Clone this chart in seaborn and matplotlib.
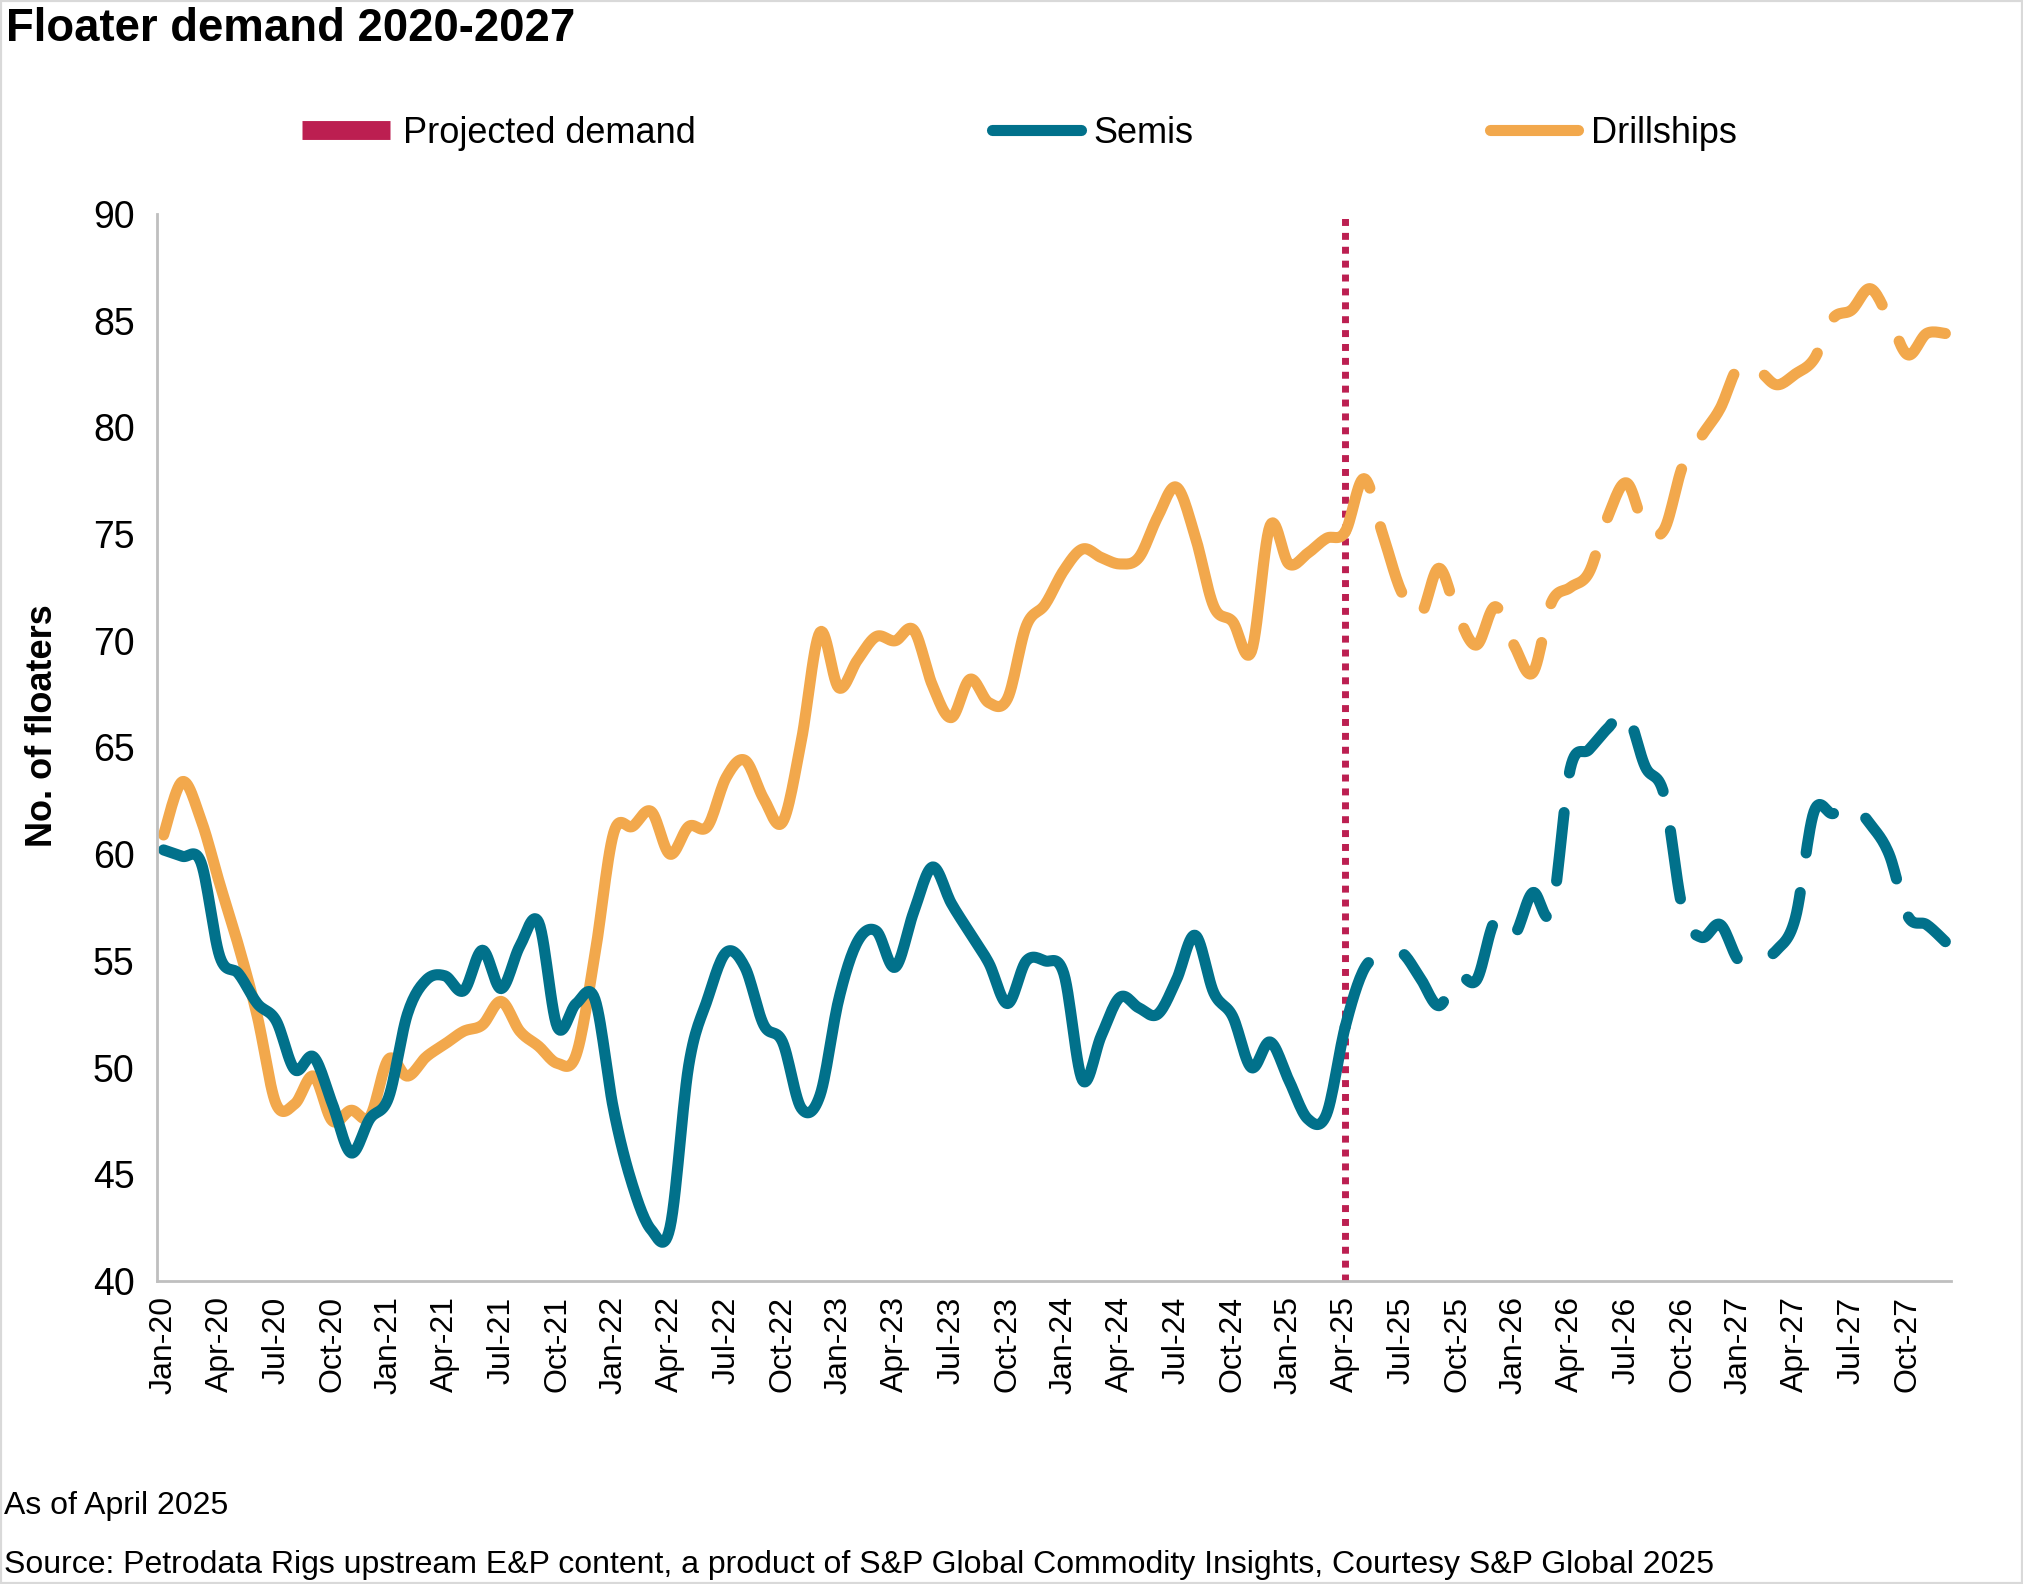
import numpy as np
import pandas as pd
import seaborn as sns
import matplotlib.pyplot as plt
from matplotlib.lines import Line2D
from matplotlib.patches import Rectangle

# monthly categories Jan-20 .. Dec-27
months = pd.date_range('2020-01-01', periods=96, freq='MS')
month_labels = [d.strftime('%b-%y') for d in months]

semis = [
    60.2, 59.9, 59.6, 55.2, 54.4, 53.0, 52.2, 49.9, 50.5, 48.3, 46.0, 47.6,
    48.6, 52.5, 54.1, 54.3, 53.6, 55.5, 53.7, 55.7, 56.8, 51.9, 53.0, 53.2,
    48.0, 44.5, 42.4, 42.5, 50.1, 53.2, 55.4, 54.7, 52.0, 51.2, 48.1, 48.7,
    53.2, 55.9, 56.4, 54.7, 57.3, 59.4, 57.7, 56.3, 54.9, 53.0, 55.0, 55.0,
    54.4, 49.4, 51.5, 53.3, 52.8, 52.5, 54.1, 56.2, 53.5, 52.4, 50.0, 51.2,
    49.4, 47.6, 47.8, 51.9, 54.6, 55.3, 55.4, 54.2, 52.9, 54.3, 54.1, 56.9,
    56.2, 58.2, 57.3, 64.0, 64.9, 65.9, 66.6, 64.1, 62.8, 57.4, 56.1, 56.7,
    55.0, 55.0, 55.5, 57.0, 62.0, 61.9, 62.3, 61.4, 60.0, 57.1, 56.7, 55.9,
]

drillships = [
    60.9, 63.4, 61.6, 58.6, 55.7, 52.4, 48.3, 48.3, 49.6, 47.5, 48.0, 47.7,
    50.4, 49.6, 50.5, 51.1, 51.7, 52.0, 53.1, 51.7, 51.0, 50.2, 50.6, 55.3,
    61.0, 61.3, 62.0, 60.0, 61.3, 61.3, 63.6, 64.4, 62.6, 61.5, 65.3, 70.4,
    67.8, 69.1, 70.2, 70.0, 70.5, 67.9, 66.4, 68.2, 67.1, 67.3, 70.7, 71.7,
    73.3, 74.3, 73.9, 73.6, 73.9, 75.8, 77.2, 74.9, 71.6, 70.9, 69.5, 75.4,
    73.6, 74.1, 74.8, 75.1, 77.6, 75.0, 72.3, 71.2, 73.4, 71.2, 69.8, 71.6,
    69.8, 68.5, 71.8, 72.5, 73.2, 75.8, 77.4, 75.3, 75.2, 78.2, 79.6, 80.9,
    82.9, 82.7, 82.0, 82.5, 83.2, 85.1, 85.5, 86.5, 85.1, 83.4, 84.4, 84.4,
]

projection_start = 'Apr-25'

TEAL = '#01718B'
ORANGE = '#F2A84C'
CRIMSON = '#BC1F51'
GREY = '#BFBFBF'


def smooth_curve(values, steps=14):
    # Excel-like smoothed line (cubic bezier through every point)
    y = np.asarray(values, dtype=float)
    x = np.arange(len(y), dtype=float)
    px = np.r_[x[0], x, x[-1]]
    py = np.r_[y[0], y, y[-1]]
    t = np.linspace(0, 1, steps, endpoint=False)
    xs, ys = [], []
    for i in range(len(y) - 1):
        x0, x1, x2, x3 = px[i:i + 4]
        y0, y1, y2, y3 = py[i:i + 4]
        cx1, cy1 = x1 + (x2 - x0) / 6, y1 + (y2 - y0) / 6
        cx2, cy2 = x2 - (x3 - x1) / 6, y2 - (y3 - y1) / 6
        a, b, c, d = (1 - t) ** 3, 3 * (1 - t) ** 2 * t, 3 * (1 - t) * t ** 2, t ** 3
        xs.append(a * x1 + b * cx1 + c * cx2 + d * x2)
        ys.append(a * y1 + b * cy1 + c * cy2 + d * y2)
    xs.append([x[-1]])
    ys.append([y[-1]])
    return np.concatenate(xs), np.concatenate(ys)


sns.set_style('white')
plt.rcParams['font.family'] = ['Liberation Sans', 'DejaVu Sans']
plt.rcParams['text.color'] = 'black'
plt.rcParams['axes.labelcolor'] = 'black'

fig = plt.figure(figsize=(10.115, 7.92), dpi=200)
ax = fig.add_axes([0.0776, 0.1913, 0.9644 - 0.0776, 0.8649 - 0.1913])

split = month_labels.index(projection_start)
lw = 4.0
long_dash = (0, (6.2, 3.6))

for values, color in [(drillships, ORANGE), (semis, TEAL)]:
    xs, ys = smooth_curve(values)
    past = xs <= split
    future = xs >= split
    sns.lineplot(x=xs[past], y=ys[past], ax=ax, color=color, lw=lw,
                 estimator=None, sort=False, errorbar=None,
                 solid_capstyle='round', solid_joinstyle='round')
    sns.lineplot(x=xs[future], y=ys[future], ax=ax, color=color, lw=lw,
                 estimator=None, sort=False, errorbar=None,
                 linestyle=long_dash, dash_capstyle='round', dash_joinstyle='round')

ax.axvline(split, color=CRIMSON, lw=2.5, linestyle=(0, (1, 1)), dash_capstyle='butt', zorder=1)

ax.set_xlim(-0.35, 95.3)
ax.set_ylim(40, 90)
ax.set_yticks(range(40, 91, 5))
ax.set_xticks(range(0, 96, 3))
ax.set_xticklabels(month_labels[::3], rotation=90)
ax.set_xlabel('')
ax.set_ylabel('')

for side in ['top', 'right']:
    ax.spines[side].set_visible(False)
for side in ['left', 'bottom']:
    ax.spines[side].set_color(GREY)
    ax.spines[side].set_linewidth(1.0)

ax.tick_params(axis='x', length=2.5, width=1.0, color=GREY, labelsize=11.5, pad=3, labelcolor='black')
ax.tick_params(axis='y', length=0, labelsize=13.5, pad=8, labelcolor='black')
ax.grid(False)

fig.text(0.021, 0.542, 'No. of floaters', rotation=90, ha='center', va='center',
         fontsize=13, fontweight='bold')
fig.text(0.003, 0.982, 'Floater demand 2020-2027', ha='left', va='center',
         fontsize=16.4, fontweight='bold')
fig.text(0.002, 0.049, 'As of April 2025', ha='left', va='center', fontsize=11.5)
fig.text(0.002, 0.012,
         'Source: Petrodata Rigs upstream E&P content, a product of S&P Global Commodity Insights, '
         'Courtesy S&P Global 2025', ha='left', va='center', fontsize=11.5)

handles = [
    Line2D([], [], color=CRIMSON, lw=6.8, solid_capstyle='butt'),
    Line2D([], [], color=TEAL, lw=lw, solid_capstyle='round'),
    Line2D([], [], color=ORANGE, lw=lw, solid_capstyle='round'),
]
fig.legend(handles, ['Projected demand', 'Semis', 'Drillships'], loc='center',
           bbox_to_anchor=(0.504, 0.916), ncol=3, frameon=False, fontsize=13,
           handlelength=2.45, handletextpad=0.36, columnspacing=8.2)

fig.patches.append(Rectangle((0, 0), 1, 1, transform=fig.transFigure, fill=False,
                             edgecolor='#D9D9D9', lw=1.5))

fig.savefig('out.png', dpi=200)
